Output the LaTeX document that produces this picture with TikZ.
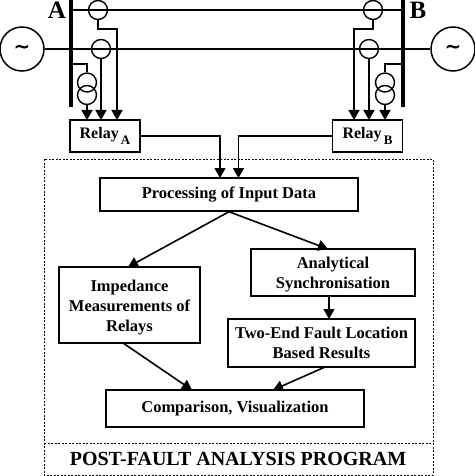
\documentclass[tikz,border=0pt]{standalone}
\usepackage{fontspec}
\setmainfont{Liberation Serif}
\newfontfamily\symfont{DejaVu Sans}
\usetikzlibrary{arrows.meta,calc}
\newcommand{\fs}[1]{\fontsize{#1}{#1}\selectfont\bfseries}
\tikzset{
  x=1pt,y=-1pt,
  box/.style={draw,line width=1.5pt,inner sep=0pt,align=center,font=\fs{16.5},execute at begin node={\baselineskip=20pt}},
  relay/.style={draw,line width=1.9pt,inner sep=0pt,minimum width=70pt,minimum height=32pt,font=\fs{16}},
  wire/.style={line width=1.6pt},
  arr/.style={line width=1.6pt,-{Triangle[width=11pt,length=10pt]}},
  ct/.style={circle,draw,line width=1.4pt,minimum size=19pt,inner sep=0pt},
  src/.style={circle,draw,line width=1.5pt,minimum size=44pt,inner sep=0pt,font=\symfont\bfseries\fontsize{20}{20}\selectfont},
  busbar/.style={line width=3.4pt},
  frame/.style={line width=0.9pt,dash pattern=on 2pt off 1.5pt},
}
\begin{document}
\begin{tikzpicture}
\useasboundingbox[fill=white] (0,0) rectangle (474,476);
% sources
\node[src] (sa) at (22,49) {\char"223C};
\node[src] (sb) at (453,49) {\char"223C};
% buses
\coordinate (batop) at (71,0); \coordinate (babot) at (71,107);
\coordinate (bbtop) at (403,0); \coordinate (bbbot) at (403,107);
\draw[busbar] (batop) -- (babot);
\draw[busbar] (bbtop) -- (bbbot);
\node[font=\fs{25}] (la) at (57,10) {A};
\node[font=\fs{25}] (lb) at (418,10) {B};
% lines
\coordinate (l1a) at (71,10); \coordinate (l1b) at (403,10);
\draw[wire] (l1a) -- (l1b);
\draw[wire] (sa) -- (sb);
% CTs
\node[ct] (cta1) at (98,10) {};
\node[ct] (cta2) at (101,49) {};
\node[ct] (ctb1) at (373,10) {};
\node[ct] (ctb2) at (369,49) {};
% VTs
\node[ct] (vta1) at (87,82.5) {};
\node[ct] (vta2) at (87,95) {};
\node[ct] (vtb1) at (385,82.5) {};
\node[ct] (vtb2) at (385,95) {};
% relays
\node[relay] (ra) at (105,136) {\raisebox{-1pt}{Relay}\raisebox{-7pt}{\fs{13}\,A}};
\node[relay] (rb) at (367.5,136) {\raisebox{-1pt}{Relay}\raisebox{-7pt}{\fs{13}\,B}};
% measurement leads
\coordinate (ta1) at (117,120); \coordinate (ta2) at (101,120); \coordinate (ta3) at (87,120);
\coordinate (tb1) at (354,120); \coordinate (tb2) at (369,120); \coordinate (tb3) at (385,120);
\coordinate (ba) at (71,64); \coordinate (bb) at (403,64);
\draw[arr] (cta1.south) |- (117,29) -- (ta1);
\draw[arr] (cta2.south) -- (ta2);
\draw[arr] (vta2.south) -- (ta3);
\draw[wire] (ba) -| (vta1.north);
\draw[arr] (ctb1.south) |- (354,29) -- (tb1);
\draw[arr] (ctb2.south) -- (tb2);
\draw[arr] (vtb2.south) -- (tb3);
\draw[wire] (bb) -| (vtb1.north);
% dashed frame
\coordinate (d1) at (44,159); \coordinate (d2) at (433,475);
\coordinate (d3) at (44,443); \coordinate (d4) at (433,443);
\draw[frame] (d1) rectangle (d2);
\draw[frame] (d3) -- (d4);
\node[font=\fs{20}] (title) at (238,458.5) {POST-FAULT ANALYSIS PROGRAM};
% boxes
\node[box,minimum width=258pt,minimum height=33pt] (proc) at (229,194.5) {Processing of Input Data};
\node[box,minimum width=141pt,minimum height=76pt] (imp) at (129.5,305) {\rule{0pt}{17pt}Impedance\\Measurements of\\Relays};
\node[box,minimum width=164pt,minimum height=47pt] (ana) at (333,272.5) {\rule{0pt}{16pt}Analytical\\Synchronisation};
\node[box,minimum width=187pt,minimum height=48pt] (two) at (321.5,343) {Two-End Fault Location\\Based Results};
\node[box,minimum width=258pt,minimum height=37pt] (cmp) at (235,408.5) {Comparison, Visualization};
% relay outputs
\coordinate (pa) at (220,178); \coordinate (pb) at (238.5,178);
\draw[arr] (ra.east) -| (pa);
\draw[arr] (rb.west) -| (pb);
% flow
\coordinate (impin) at (128,267); \coordinate (anain) at (328,249);
\coordinate (anaout) at (329,296); \coordinate (twoin) at (329,319);
\coordinate (impout) at (123,343); \coordinate (twoout) at (325,367);
\coordinate (cmpa) at (192,390); \coordinate (cmpb) at (273,390);
\draw[arr] (proc.south) -- (impin);
\draw[arr] (proc.south) -- (anain);
\draw[arr] (anaout) -- (twoin);
\draw[arr] (impout) -- (cmpa);
\draw[arr] (twoout) -- (cmpb);
\end{tikzpicture}
\end{document}
